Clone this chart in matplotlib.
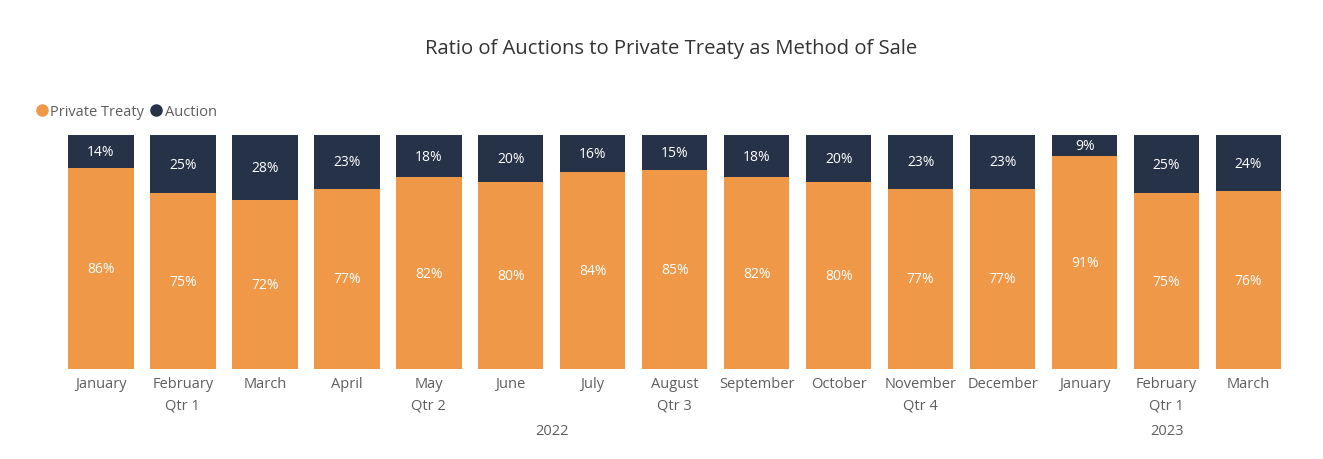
import matplotlib.pyplot as plt
from matplotlib.lines import Line2D

plt.rcParams['font.family'] = ['Open Sans', 'DejaVu Sans']

months = ["January", "February", "March", "April", "May", "June", "July",
          "August", "September", "October", "November", "December",
          "January", "February", "March"]
quarters = ["", "Qtr 1", "", "", "Qtr 2", "", "", "Qtr 3", "", "", "Qtr 4", "",
            "", "Qtr 1", ""]
years = ["2022", "2023"]
year_spans = [(0, 11), (12, 14)]
private_treaty = [86, 75, 72, 77, 82, 80, 84, 85, 82, 80, 77, 77, 91, 75, 76]
auction = [14, 25, 28, 23, 18, 20, 16, 15, 18, 20, 23, 23, 9, 25, 24]

orange = "#EE9848"
navy = "#253248"
text_gray = "#605E5C"

fig = plt.figure(figsize=(13.23, 4.6), dpi=100)
ax = fig.add_axes([0.0452, 0.1957, 0.9295, 0.5087])

x = list(range(len(months)))
ax.bar(x, private_treaty, width=0.8, color=orange)
ax.bar(x, auction, width=0.8, bottom=private_treaty, color=navy)

for i in x:
    ax.text(i, private_treaty[i] / 2, f"{private_treaty[i]}%", ha="center", va="center",
            color="white", fontsize=10)
    ax.text(i, private_treaty[i] + auction[i] / 2, f"{auction[i]}%", ha="center", va="center",
            color="white", fontsize=10)

ax.set_xlim(-0.5, len(months) - 0.5)
ax.set_ylim(0, 100)
ax.set_yticks([])
ax.set_xticks([])
for s in ax.spines.values():
    s.set_visible(False)

# hierarchical x labels
trans = ax.get_xaxis_transform()
for i in x:
    ax.text(i, -0.063, months[i], transform=trans, ha="center", va="center",
            color=text_gray, fontsize=10.5)
    if quarters[i]:
        ax.text(i, -0.152, quarters[i], transform=trans, ha="center", va="center",
                color=text_gray, fontsize=10.5)
for yr, (a, b) in zip(years, year_spans):
    ax.text((a + b) / 2, -0.263, yr, transform=trans, ha="center", va="center",
            color=text_gray, fontsize=10.5)

fig.text(671 / 1323, 1 - 49 / 460, "Ratio of Auctions to Private Treaty as Method of Sale",
         ha="center", va="center", fontsize=14.6, color="#333333")

handles = [Line2D([], [], marker="o", linestyle="", markersize=8, color=orange),
           Line2D([], [], marker="o", linestyle="", markersize=8, color=navy)]
fig.legend(handles, ["Private Treaty", "Auction"], loc="center left",
           bbox_to_anchor=(0.016, 1 - 113 / 460), ncol=2, frameon=False,
           handletextpad=0.1, columnspacing=0.3, handlelength=1.0,
           fontsize=10.5, labelcolor=text_gray)

fig.savefig("out.png", dpi=100)
